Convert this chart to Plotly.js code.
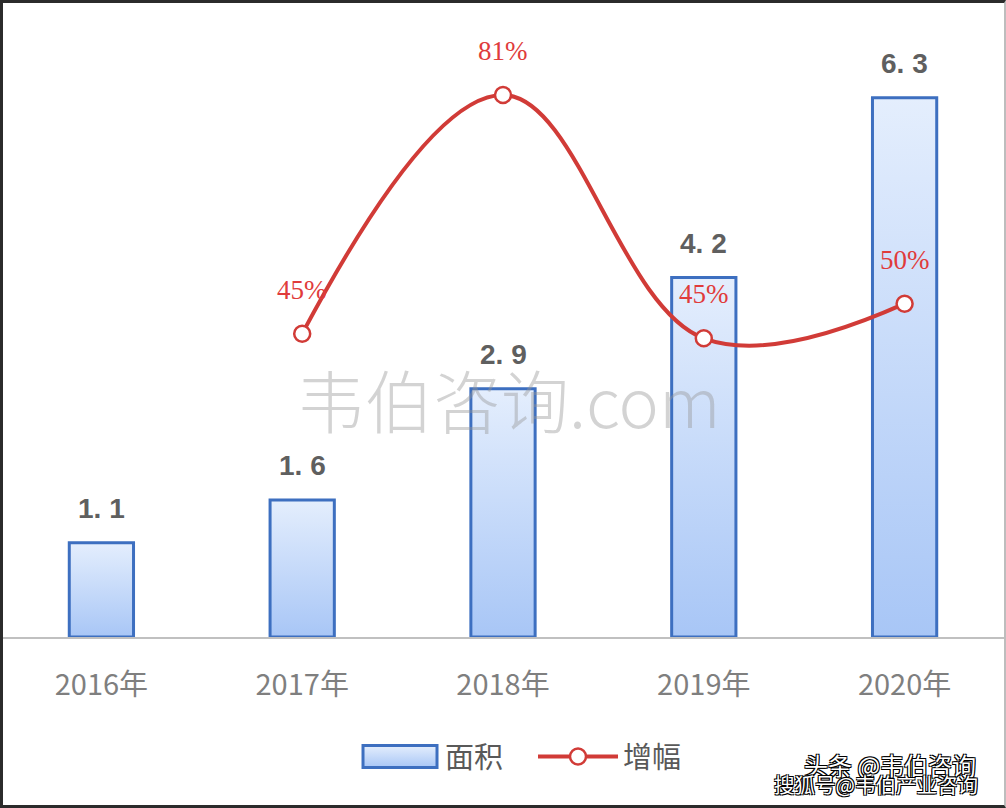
<!DOCTYPE html>
<html>
<head>
<meta charset="utf-8">
<script src="https://cdn.plot.ly/plotly-3.0.1.min.js"></script>
<style>
  html, body { margin: 0; padding: 0; background: #fff; }
  #wrap { position: relative; width: 1006px; height: 808px; }
  #chart { width: 1006px; height: 808px; }
  #frame { position: absolute; left: 0; top: 0; width: 1006px; height: 808px; box-sizing: border-box;
           border-top: 3px solid #2b2b2b; border-left: 3px solid #2b2b2b; border-bottom: 3px solid #2b2b2b;
           border-right: 2px solid #bdbdbd; pointer-events: none; z-index: 10; }
</style>
</head>
<body>
<div id="wrap"><div id="chart"></div><div id="frame"></div></div>
<script>
// ---- data ----
const years = ['2016年', '2017年', '2018年', '2019年', '2020年'];
const area = [1.1, 1.6, 2.9, 4.2, 6.3];
const growth = [null, 45.5, 81.3, 44.8, 50.0];
const areaLabels = ['1. 1', '1. 6', '2. 9', '4. 2', '6. 3'];
const growthLabels = ['', '45%', '81%', '45%', '50%'];
const seriesNames = ['面积', '增幅'];
const watermark = '韦伯咨询.com';
const sourceMarks = ['头条 @韦伯咨询', '搜狐号@韦伯产业咨询'];

const barBorder = '#3d6fc0';
const red = '#d13b37';

const traces = [
  {
    type: 'bar', name: seriesNames[0], x: years, y: area, width: 0.32,
    marker: { color: '#c6daf8', line: { color: barBorder, width: 3 } },
    hoverinfo: 'skip'
  },
  {
    type: 'scatter', name: seriesNames[1], x: years, y: growth, yaxis: 'y2',
    mode: 'lines+markers',
    line: { color: red, width: 4, shape: 'spline', smoothing: 1.1 },
    marker: { size: 16, color: '#ffffff', line: { color: red, width: 2.5 } },
    hoverinfo: 'skip'
  }
];

const annotations = [];
years.forEach((yr, i) => {
  annotations.push({
    x: yr, y: area[i], xref: 'x', yref: 'y', yanchor: 'bottom', yshift: 17,
    text: areaLabels[i], showarrow: false,
    font: { family: 'Liberation Sans, Arial, sans-serif', size: 28, color: '#5f5f5f', weight: 'bold' }
  });
  if (growth[i] !== null) {
    annotations.push({
      x: yr, y: growth[i], xref: 'x', yref: 'y2', yanchor: 'bottom', yshift: 27,
      text: growthLabels[i], showarrow: false,
      font: { family: 'Liberation Serif, serif', size: 27, color: '#e03b3b' }
    });
  }
});
annotations.push({
  x: 0.505, y: 0.386, xref: 'paper', yref: 'paper', xanchor: 'center', yanchor: 'middle',
  text: watermark, showarrow: false,
  font: { family: 'Noto Sans CJK SC, sans-serif', size: 68, color: 'rgba(150,150,150,0.42)', weight: 300 }
});
const outline = '1px 1px 0 #000, -1px -1px 0 #000, 1px -1px 0 #000, -1px 1px 0 #000';
annotations.push({
  x: 0.973, y: -0.206, xref: 'paper', yref: 'paper', xanchor: 'right', yanchor: 'middle',
  text: sourceMarks[0], showarrow: false,
  font: { family: 'Noto Sans CJK SC, sans-serif', size: 24, color: '#ffffff', shadow: outline }
});
annotations.push({
  x: 0.975, y: -0.239, xref: 'paper', yref: 'paper', xanchor: 'right', yanchor: 'middle',
  text: sourceMarks[1], showarrow: false,
  font: { family: 'Noto Sans CJK SC, sans-serif', size: 20.5, color: '#ffffff', shadow: outline }
});

const layout = {
  width: 1006, height: 808,
  margin: { l: 1, r: 1, t: 20, b: 171 },
  paper_bgcolor: '#ffffff', plot_bgcolor: '#ffffff',
  showlegend: true,
  legend: {
    orientation: 'h', x: 0.3526, xanchor: 'left', y: -0.194, yanchor: 'middle',
    font: { family: 'Noto Sans CJK SC, sans-serif', size: 29, color: '#595959' },
    itemwidth: 80, entrywidth: 83, traceorder: 'normal'
  },
  xaxis: {
    type: 'category', range: [-0.5, 4.5], showgrid: false, zeroline: false,
    showline: true, linecolor: '#c0c0c0', linewidth: 2, ticks: '',
    ticklabelstandoff: 21,
    tickfont: { family: 'Noto Sans CJK SC, sans-serif', size: 29, color: '#7f7f7f' },
    fixedrange: true
  },
  yaxis: { range: [0, 7.21], visible: false, showgrid: false, zeroline: false, fixedrange: true },
  yaxis2: { range: [0, 92.55], overlaying: 'y', visible: false, showgrid: false, zeroline: false, fixedrange: true },
  annotations: annotations
};

Plotly.newPlot('chart', traces, layout, { displayModeBar: false, staticPlot: true }).then(gd => {
  const svg = gd.querySelector('.main-svg');
  const ns = 'http://www.w3.org/2000/svg';
  let defs = svg.querySelector('defs');
  if (!defs) { defs = document.createElementNS(ns, 'defs'); svg.insertBefore(defs, svg.firstChild); }
  const grad = document.createElementNS(ns, 'linearGradient');
  grad.setAttribute('id', 'barGrad');
  grad.setAttribute('x1', '0'); grad.setAttribute('y1', '0');
  grad.setAttribute('x2', '0'); grad.setAttribute('y2', '1');
  [['0', '#e4eefd'], ['1', '#a8c6f6']].forEach(([o, c]) => {
    const s = document.createElementNS(ns, 'stop');
    s.setAttribute('offset', o); s.setAttribute('stop-color', c);
    grad.appendChild(s);
  });
  defs.appendChild(grad);
  gd.querySelectorAll('.barlayer .point path').forEach(p => { p.style.fill = 'url(#barGrad)'; });
  // widen the bar legend symbol to a long rectangle ending just before its label
  const items = gd.querySelectorAll('.legend .traces');
  items.forEach(item => {
    const txt = item.querySelector('text.legendtext');
    const bar = item.querySelector('path.legendbar') ||
      Array.from(item.querySelectorAll('.legendpoints path')).find(p => (p.style.fill || '').indexOf('198') >= 0);
    if (txt && bar) {
      const tr = txt.getBoundingClientRect();
      const br = bar.getBoundingClientRect();
      const cx = br.left + br.width / 2;
      const R = tr.left - 8 - cx, L = tr.left - 82 - cx;
      bar.setAttribute('d', `M${R},11H${L}V-11H${R}Z`);
      bar.style.fill = 'url(#barGrad)';
      bar.style.strokeWidth = '3px';
    }
  });
});
</script>
</body>
</html>
